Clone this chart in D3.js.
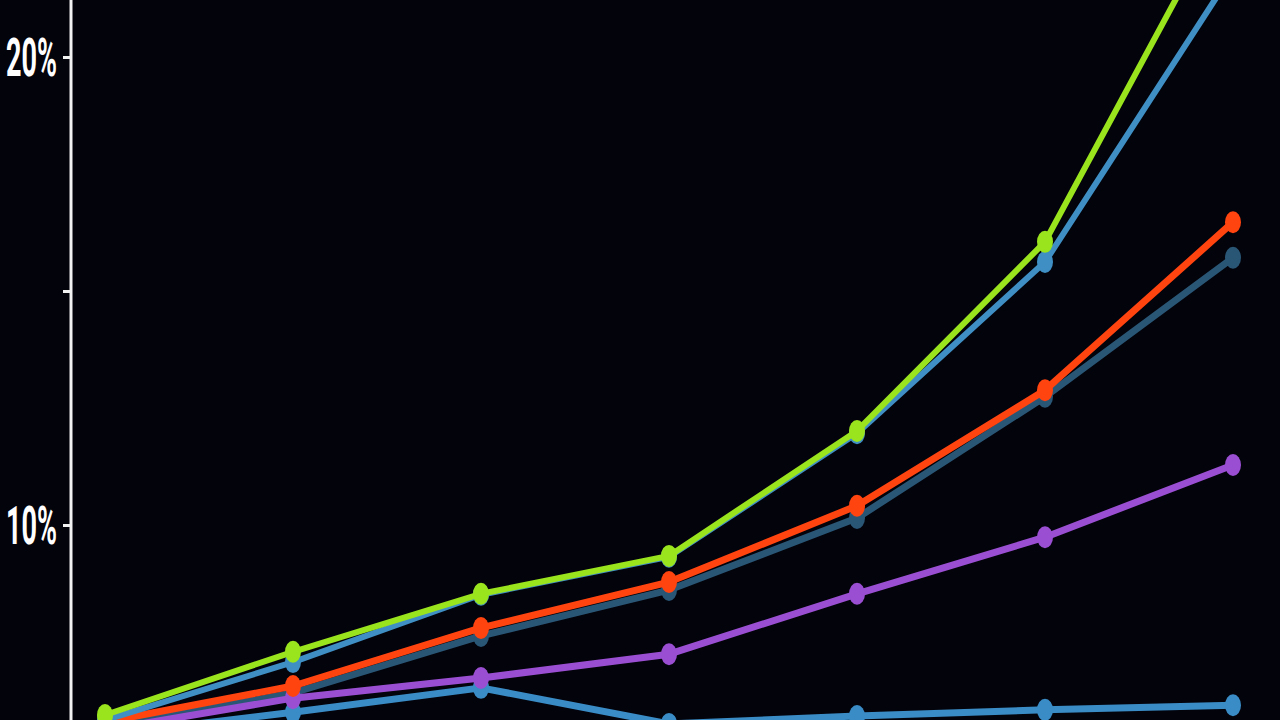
<!DOCTYPE html>
<html>
<head>
<meta charset="utf-8">
<script src="https://cdn.jsdelivr.net/npm/d3@7"></script>
<style>
html,body{margin:0;padding:0;background:#03030b;overflow:hidden;}
svg{display:block;}
</style>
</head>
<body>
<svg id="chart" width="1280" height="720"></svg>
<script>
// Data (percent values)
const categories = ["P1","P2","P3","P4","P5","P6","P7"];
const greenSeries  = [5.94, 7.29, 8.53, 9.34, 12.01, 16.05, 23.5];
const blueTop      = [5.83, 7.07, 8.51, 9.32, 11.96, 15.62, 21.82];
const redSeries    = [5.79, 6.56, 7.80, 8.78, 10.41, 12.88, 16.47];
const shadowSeries = [5.66, 6.41, 7.63, 8.61, 10.15, 12.74, 15.71];
const purpleSeries = [5.62, 6.30, 6.73, 7.24, 8.53, 9.74, 11.28];
const blueBottom   = [5.51, 6.00, 6.52, 5.75, 5.92, 6.05, 6.15];
const yTicks = [10, 15, 20];
const yTickLabels = {10: "10%", 15: "", 20: "20%"};

const svg = d3.select("#chart");
const W = 1280, H = 720;

svg.append("rect").attr("width", W).attr("height", H).attr("fill", "#03030b");

const x = d3.scalePoint().domain(categories).range([105, 1233]);
const y = d3.scaleLinear().domain([10, 20]).range([525, 57]);

// y axis
const axisX = 71;
const yAxis = d3.axisLeft(y).tickValues(yTicks).tickSize(8).tickFormat("");
const gAxis = svg.append("g").attr("transform", `translate(${axisX},0)`).call(yAxis);
gAxis.select(".domain").remove();
gAxis.selectAll(".tick line").attr("stroke", "#f2f2f2").attr("stroke-width", 3);
svg.append("line")
  .attr("x1", axisX).attr("x2", axisX).attr("y1", 0).attr("y2", H)
  .attr("stroke", "#f2f2f2").attr("stroke-width", 3);

svg.selectAll("text.ylab").data(yTicks).enter().append("text")
  .attr("class", "ylab")
  .attr("transform", d => `translate(57, ${y(d)}) scale(0.5,1)`)
  .attr("text-anchor", "end")
  .attr("dominant-baseline", "central")
  .attr("font-family", "Roboto, 'DejaVu Sans', sans-serif")
  .attr("font-weight", 700)
  .attr("font-size", 54)
  .attr("fill", "#ffffff")
  .text(d => yTickLabels[d]);

const series = [
  {name: "shadow", values: shadowSeries, color: "#2a5676", width: 7},
  {name: "blueBottom", values: blueBottom, color: "#3a8cc6", width: 7},
  {name: "purple", values: purpleSeries, color: "#9a4fd2", width: 7},
  {name: "red", values: redSeries, color: "#ff4410", width: 7},
  {name: "blueTop", values: blueTop, color: "#3f8fc4", width: 6},
  {name: "green", values: greenSeries, color: "#9ae41e", width: 6}
];

const line = d3.line()
  .x((d, i) => x(categories[i]))
  .y(d => y(d));

series.forEach(s => {
  const g = svg.append("g");
  g.append("path")
    .datum(s.values)
    .attr("d", line)
    .attr("fill", "none")
    .attr("stroke", s.color)
    .attr("stroke-width", s.width)
    .attr("stroke-linejoin", "round")
    .attr("stroke-linecap", "round");
  g.selectAll("ellipse").data(s.values).enter().append("ellipse")
    .attr("cx", (d, i) => x(categories[i]))
    .attr("cy", d => y(d))
    .attr("rx", 8)
    .attr("ry", 11)
    .attr("fill", s.color);
});
</script>
</body>
</html>
